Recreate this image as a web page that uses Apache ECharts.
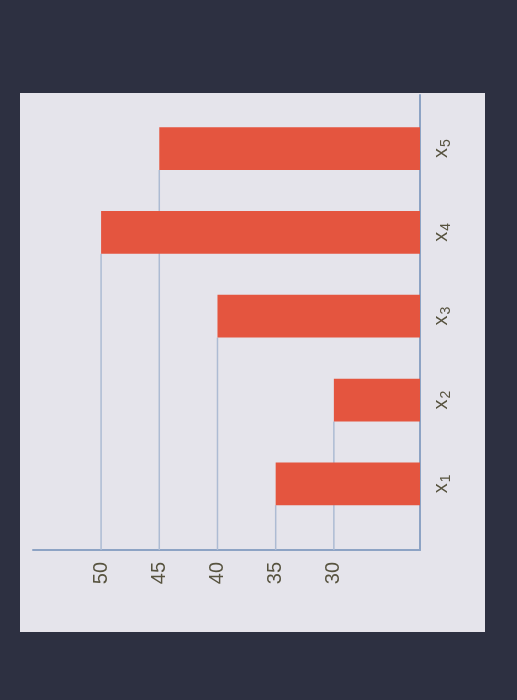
<!DOCTYPE html>
<html>
<head>
<meta charset="utf-8">
<script src="https://cdn.jsdelivr.net/npm/echarts@6/dist/echarts.min.js"></script>
<style>
  html, body { margin: 0; padding: 0; width: 517px; height: 700px; background: #2d3041; overflow: hidden; }
  #panel { position: absolute; left: 20px; top: 93px; width: 465px; height: 539px; background: #e5e4eb; }
  #chart { position: absolute; left: 0; top: 0; width: 517px; height: 700px; }
</style>
</head>
<body>
<div id="panel"></div>
<div id="chart"></div>
<script>
// ---- data ----
const categories = ['x1', 'x2', 'x3', 'x4', 'x5'];
const values = [35, 30, 40, 50, 45];
const valueTicks = [30, 35, 40, 45, 50];
const valueMin = 22.6;
const valueMax = 55.85;
const catMin = -0.79;
const catMax = 4.64;
const catTicks = [0, 1, 2, 3, 4];

const chart = echarts.init(document.getElementById('chart'), null, { renderer: 'canvas' });
const textColor = '#57533f';
const axisColor = '#8da3c4';
const fontFam = 'Liberation Sans, Arial, sans-serif';

const option = {
  backgroundColor: 'transparent',
  animation: false,
  grid: { left: 33, right: 97, top: 95, bottom: 150, containLabel: false },
  xAxis: {
    type: 'value',
    inverse: true,
    position: 'bottom',
    min: valueMin,
    max: valueMax,
    axisLine: { show: true, onZero: false, lineStyle: { color: axisColor, width: 2 } },
    axisTick: { show: false },
    splitLine: { show: false },
    axisLabel: {
      customValues: valueTicks,
      rotate: 90,
      margin: 12,
      color: textColor,
      fontSize: 20,
      fontFamily: fontFam
    }
  },
  yAxis: {
    type: 'value',
    position: 'right',
    min: catMin,
    max: catMax,
    axisLine: { show: true, onZero: false, lineStyle: { color: axisColor, width: 2 } },
    axisTick: { show: false },
    splitLine: { show: false },
    axisLabel: {
      customValues: catTicks,
      rotate: 90,
      margin: 10,
      color: textColor,
      fontFamily: fontFam,
      formatter: function (val) {
        const name = categories[Math.round(val)] || '';
        return '{b|' + name.charAt(0) + '}{s|' + name.slice(1) + '}';
      },
      rich: {
        b: { fontSize: 20, color: textColor, fontFamily: fontFam },
        s: { fontSize: 14, color: textColor, verticalAlign: 'bottom', padding: [9, 0, 0, 1], fontFamily: fontFam }
      }
    }
  },
  series: [{
    type: 'custom',
    data: values.map(function (v, i) { return [v, i]; }),
    encode: { x: 0, y: 1 },
    renderItem: function (params, api) {
      const v = api.value(0);
      const i = api.value(1);
      const end = api.coord([v, i]);
      const start = api.coord([valueMin, i]);
      const band = api.size([0, 1])[1];
      const barH = band * 0.51;
      const cs = params.coordSys;
      return {
        type: 'group',
        children: [
          {
            type: 'line',
            shape: { x1: end[0], y1: end[1] + barH / 2, x2: end[0], y2: cs.y + cs.height },
            style: { stroke: '#adbbd3', lineWidth: 1.5 },
            z2: 1
          },
          {
            type: 'rect',
            shape: { x: end[0], y: end[1] - barH / 2, width: start[0] - end[0], height: barH },
            style: { fill: '#e4553f' },
            z2: 2
          }
        ]
      };
    }
  }]
};
chart.setOption(option);
</script>
</body>
</html>
